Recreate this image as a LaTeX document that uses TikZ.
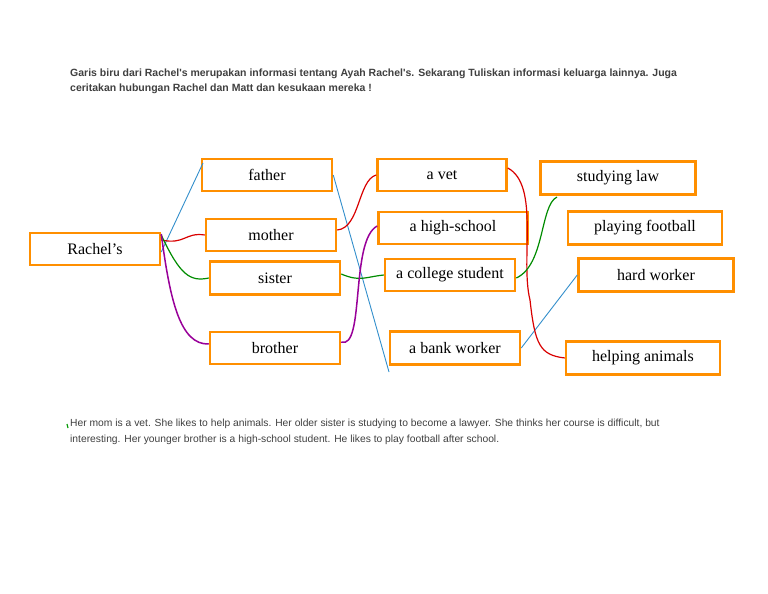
\documentclass[tikz,border=0pt]{standalone}
\usepackage{fontspec}
\setmainfont{Liberation Serif}
\newfontfamily\sans{Liberation Sans}
\begin{document}
\begin{tikzpicture}[x=1pt,y=-1pt,
  box/.style={draw=orange!90!red!80!yellow,line width=2.5pt,fill=white,font=\fontsize{16}{18}\selectfont},
  lb/.style={draw=blue!40!cyan!60!gray,line width=0.9pt},
  lr/.style={draw=red!85!black,line width=1.2pt},
  lg/.style={draw=green!55!black,line width=1.2pt},
  lp/.style={draw=violet!80!magenta,line width=1.5pt}]
\useasboundingbox[fill=white] (0,0) rectangle (768,594);
\tikzset{bx/.style args={#1/#2/#3/#4}{box,minimum width={#3-#1},minimum height={#4-#2}}}
\node[bx=30/233/160/265] (r) at (95,249) {Rachel’s};
\node[bx=202/159/332/191] (fa) at (267,175) {father};
\node[bx=206/219/336/251] (mo) at (271,235) {mother};
\node[bx=210/262/340/295] (si) at (275,278) {sister};
\node[bx=210/332/340/364] (br) at (275,348) {brother};
\node[bx=378/159/507/191] (vet) at (442,175) {a vet};
\node[bx=379/212/528/244] (hs) at (453,228) {a high-school};
\node[bx=385/259/515/291] (cs) at (450,275) {a college student};
\node[bx=390/331/520/364] (bw) at (455,348) {a bank worker};
\node[bx=541/162/696/195] (law) at (618,178) {studying law};
\node[bx=568/212/722/245] (pf) at (645,228) {playing football};
\node[bx=579/259/734/292] (hw) at (656,275) {hard worker};
\node[bx=566/342/720/375] (ha) at (643,358) {helping animals};
\coordinate (bend) at (389,372);
\coordinate (faend) at (203,163);
\coordinate (lawend) at (557,197);
% blue
\draw[lb] ([yshift=-3pt]r.east) -- (faend);
\draw[lb] (fa.east) -- (bend);
\draw[lb] (bw.east) -- (hw.west);
% red
\draw[lr] ([yshift=9pt]r.east) .. controls (185,245) and (185,232) .. (mo.west);
\draw[lr] ([yshift=5pt]mo.east) .. controls (360,228) and (358,180) .. (vet.west);
\draw[lr] ([yshift=7pt]vet.east) .. controls (540,185) and (520,260) .. (530,300) .. controls (535,345) and (540,355) .. (ha.west);
% green
\draw[lg] ([yshift=14pt]r.east) .. controls (180,275) and (190,282) .. (si.west);
\draw[lg] ([yshift=4pt]si.east) .. controls (360,282) and (365,277) .. (cs.west);
\draw[lg] ([yshift=-3pt]cs.east) .. controls (545,265) and (540,205) .. (lawend);
% purple
\draw[lp] ([yshift=15pt]r.east) .. controls (170,300) and (180,345) .. ([yshift=4pt]br.west);
\draw[lp] ([yshift=6pt]br.east) .. controls (365,350) and (350,240) .. ([yshift=2pt]hs.west);
% texts
\node[anchor=north west,font=\sans\bfseries\fontsize{10.5}{15}\selectfont,text=black!75,align=left,inner sep=0] (t1) at (70,69)
{Garis biru dari Rachel's merupakan informasi tentang Ayah Rachel's. Sekarang Tuliskan informasi keluarga lainnya. Juga\\ceritakan hubungan Rachel dan Matt dan kesukaan mereka !};
\node[anchor=north west,font=\sans\fontsize{10.3}{16}\selectfont,text=black!75,align=left,inner sep=0] (t2) at (70,419)
{Her mom is a vet. She likes to help animals. Her older sister is studying to become a lawyer. She thinks her course is difficult, but\\interesting. Her younger brother is a high-school student. He likes to play football after school.};
\draw[green!60!black,line width=1.2pt] (67,424) -- (68,428);
\end{tikzpicture}
\end{document}
